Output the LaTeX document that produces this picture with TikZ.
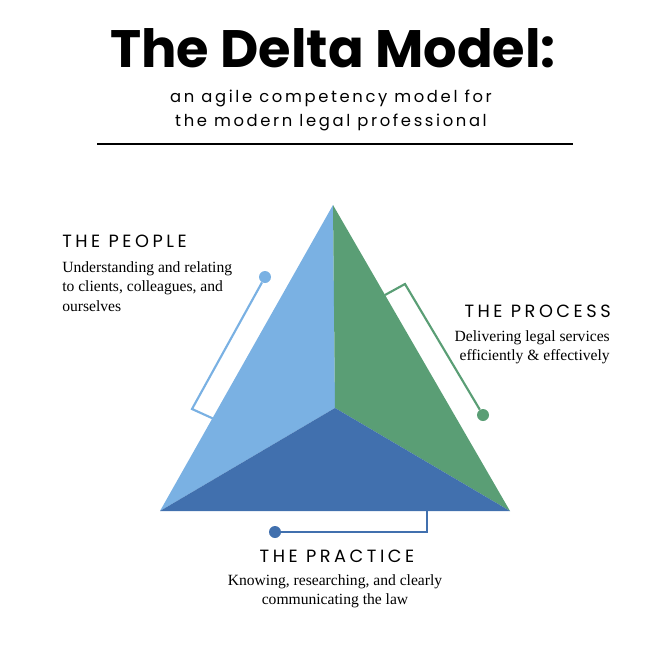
\documentclass[tikz,border=0pt]{standalone}
\usepackage{fontspec}
\usepackage{xcolor}
\usetikzlibrary{positioning}
\newfontfamily\titlefont{Poppins}
\newfontfamily\spacedfont{Poppins}[LetterSpace=16]
\newfontfamily\headfont{Poppins}[LetterSpace=20]
\newfontfamily\bodyfont{Liberation Serif}
\definecolor{peopleblue}{HTML}{7AB1E3}
\definecolor{processgreen}{HTML}{5A9E75}
\definecolor{practiceblue}{HTML}{4170AE}

\begin{document}
\begin{tikzpicture}[
    x=0.75pt, y=-0.75pt,
    head/.style={font=\headfont\fontsize{13.3}{16}\selectfont, inner sep=0pt},
    desc/.style={font=\bodyfont\fontsize{11.7}{14.6}\selectfont, inner sep=0pt},
    link/.style={line width=1.6pt},
    dot/.style={circle, fill, inner sep=0pt, minimum size=9pt}
]
\useasboundingbox (0,0) rectangle (665,664);
% title block
\node[font=\titlefont\bfseries\fontsize{39.5}{44}\selectfont, inner sep=0pt] (title) at (333,48) {The Delta Model:};
\node[font=\spacedfont\fontsize{12.3}{18}\selectfont, align=center, inner sep=0pt] (subtitle) at (331,110) {an agile competency model for\\the modern legal professional};
\draw[line width=2.2pt] (97,144) -- (573,144);

% the triangle
\coordinate (apex) at (333,205);
\coordinate (left) at (160,511);
\coordinate (right) at (510,511);
\coordinate (mid) at (335,408);
\fill[peopleblue] (apex) -- (left) -- (mid) -- cycle;
\fill[processgreen] (apex) -- (mid) -- (right) -- cycle;
\fill[practiceblue] (left) -- (mid) -- (right) -- cycle;

% people
\node[head, anchor=west] (people) at (62,241) {THE PEOPLE};
\node[desc, anchor=north west, align=left] (peopletext) at (62,261) {Understanding and relating\\to clients, colleagues, and\\ourselves};
\node[dot, peopleblue] (peopledot) at (265,277) {};
\coordinate (peoplebend) at (192,409);
\coordinate (peopleend) at (214,419);
\draw[link, peopleblue] (peopledot) -- (peoplebend) -- (peopleend);

% process
\node[head, anchor=east] (process) at (611,311) {THE PROCESS};
\node[desc, anchor=north east, align=right] (processtext) at (610,330) {Delivering legal services\\efficiently \& effectively};
\node[dot, processgreen] (processdot) at (483,415) {};
\coordinate (processstart) at (385,295);
\coordinate (processbend) at (405,284);
\draw[link, processgreen] (processstart) -- (processbend) -- (processdot);

% practice
\node[head] (practice) at (337,556) {THE PRACTICE};
\node[desc, anchor=north, align=center] (practicetext) at (335,574) {Knowing, researching, and clearly\\communicating the law};
\node[dot, practiceblue] (practicedot) at (275,532) {};
\coordinate (practicestart) at (427,511);
\coordinate (practicebend) at (427,532);
\draw[link, practiceblue] (practicestart) -- (practicebend) -- (practicedot);
\end{tikzpicture}
\end{document}
